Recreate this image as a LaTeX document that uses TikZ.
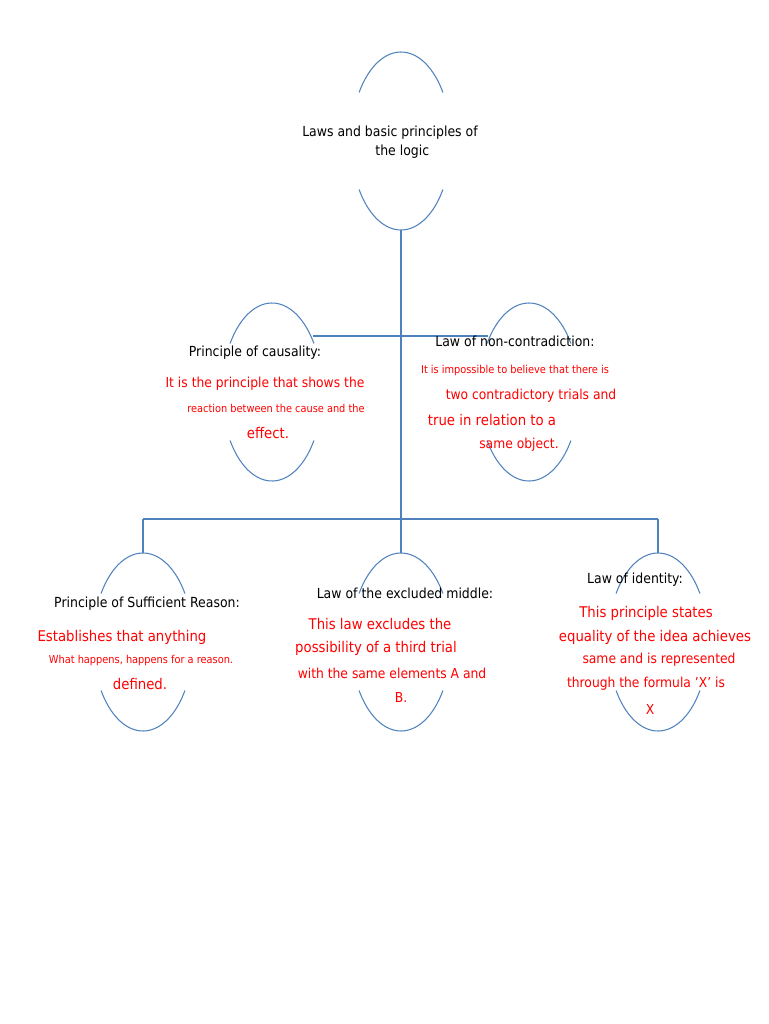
\documentclass[tikz,border=0pt]{standalone}
\usepackage{fontspec}
\setmainfont{DejaVu Sans Condensed}
\usetikzlibrary{calc,positioning}
\definecolor{ovalblue}{RGB}{79,129,189}
\tikzset{
  arcline/.style={draw=ovalblue, line width=0.6pt},
  head/.style={font=\fontsize{7.9}{9}\selectfont, inner sep=0pt},
  redm/.style={font=\fontsize{7.8}{9}\selectfont, text=red, inner sep=0pt},
  reds/.style={font=\fontsize{6.2}{8}\selectfont, text=red, inner sep=0pt},
  redl/.style={font=\fontsize{8.4}{10}\selectfont, text=red, inner sep=0pt}
}
\newcommand{\halfovals}[1]{%
  \draw[arcline] ($(#1)+(33:50 and 89)$) arc[start angle=33,end angle=147,x radius=50,y radius=89];
  \draw[arcline] ($(#1)+(213:50 and 89)$) arc[start angle=213,end angle=327,x radius=50,y radius=89];}
\begin{document}
\begin{tikzpicture}[x=0.02cm,y=-0.02cm]
\useasboundingbox (0,0) rectangle (768,1024);
% centres of the ovals
\coordinate (top) at (401,141);
\coordinate (cau) at (272,392);
\coordinate (non) at (529,392);
\coordinate (suf) at (143,642);
\coordinate (exc) at (401,642);
\coordinate (ide) at (658,642);
\foreach \c in {top,cau,non,suf,exc,ide} {\halfovals{\c}}

% connectors
\coordinate (topb) at (401,230);
\coordinate (excb) at (401,553);
\coordinate (caur) at (313,336);
\coordinate (nonl) at (488,336);
\coordinate (hl) at (143,519);
\coordinate (hr) at (658,519);
\coordinate (sufb) at (143,553);
\coordinate (ideb) at (658,553);
\draw[arcline] (topb) -- (excb);
\draw[arcline] (caur) -- (nonl);
\draw[arcline] (hl) -- (hr);
\draw[arcline] (hl) -- (sufb);
\draw[arcline] (hr) -- (ideb);

% texts
\node[head, align=center] (t1) at (390,142) {Laws and basic principles of\\[2pt]\hspace*{14pt}the logic};

\node[head] (c0) at (255,353) {Principle of causality:};
\node[redm] (c1) at (265,384) {It is the principle that shows the};
\node[reds] (c2) at (276,408) {reaction between the cause and the};
\node[redl] (c3) at (268,433) {effect.};

\node[head] (n0) at (515,341) {Law of non-contradiction:};
\node[reds] (n1) at (515,370) {It is impossible to believe that there is};
\node[redm] (n2) at (531,396) {two contradictory trials and};
\node[redl] (n3) at (492,420) {true in relation to a};
\node[redm] (n4) at (519,445) {same object.};

\node[head] (s0) at (147,604) {Principle of Sufficient Reason:};
\node[redl] (s1) at (122,637) {Establishes that anything};
\node[reds] (s2) at (141,660) {What happens, happens for a reason.};
\node[redl] (s3) at (140,684) {defined.};

\node[head] (e0) at (405,593) {Law of the excluded middle:};
\node[redl] (e1) at (380,624) {This law excludes the};
\node[redl] (e2) at (376,648) {possibility of a third trial};
\node[redm] (e3) at (392,673) {with the same elements A and};
\node[redm] (e4) at (401,697) {B.};

\node[head] (i0) at (635,580) {Law of identity:};
\node[redl] (i1) at (646,613) {This principle states};
\node[redl] (i2) at (655,637) {equality of the idea achieves};
\node[redm] (i3) at (659,660) {same and is represented};
\node[redm] (i4) at (646,684) {through the formula 'X' is};
\node[redm] (i5) at (650,709) {X};
\end{tikzpicture}
\end{document}
